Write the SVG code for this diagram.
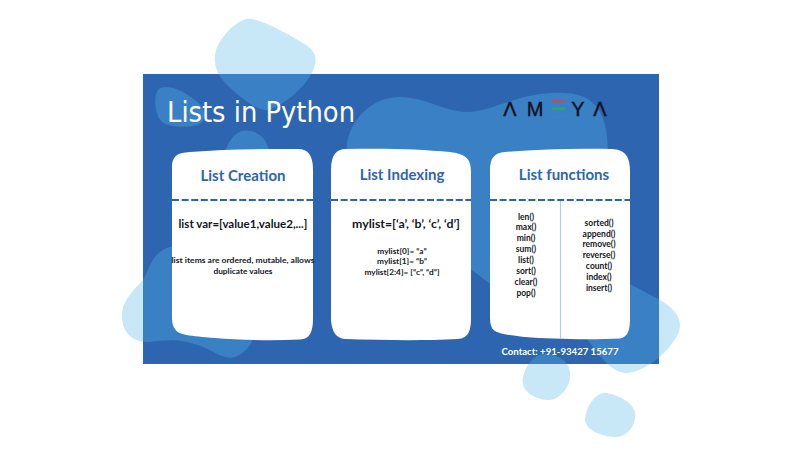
<svg xmlns="http://www.w3.org/2000/svg" xmlns:xlink="http://www.w3.org/1999/xlink" width="800" height="450" viewBox="0 0 800 450">
<style>
text{font-family:"Lato","Liberation Sans",sans-serif;text-anchor:middle;fill:#15151c;font-weight:700}
.h{font-size:15px;fill:#2f65ab}
.c{font-size:11.500px}
.s{font-size:8.300px}
.f{font-size:8.500px}
.card{fill:#fff}
.dash{fill:none;stroke:#2d65ad;stroke-width:2.2;stroke-dasharray:7 2.6}
.logo{font-family:"Liberation Sans",sans-serif;font-size:20px;font-weight:400;fill:#11121c;stroke:#11121c;stroke-width:.4}
</style>
<defs>
<g id="blobs">
<path d="M247 19C258 17 290 35 303 43C315 50 318 58 314 68C308 85 285 105 268 110C258 112 240 97 228 86C215 74 213 60 216 50C220 38 235 21 247 19Z"/>
<path d="M170 247C152 252 150 268 143 280C130 293 120 305 122 320C124 335 135 343 150 342C165 340 180 338 203 347C215 352 225 360 235 357C248 352 255 340 256 325C258 300 240 280 225 268C208 255 190 245 170 247Z"/>
<path d="M523 377C526 365 535 352 548 354C562 356 572 365 570 378C568 390 558 401 547 400C533 399 520 390 523 377Z"/>
<path d="M607 393C618 395 632 402 635 412C637 424 628 437 615 437C600 436 586 430 585 420C585 408 596 391 607 393Z"/>
</g>
<g id="inner">
<path d="M160 88C170 84 185 92 195 100C205 108 208 118 200 124C190 128 172 128 162 122C155 116 152 94 160 88Z"/>
<path d="M236 134C243 128 255 130 262 137C268 143 272 155 268 165L226 165C221 155 228 141 236 134Z"/>
<path d="M347 143C352 118 372 97 400 97C425 97 445 112 467 112C490 112 515 95 550 93C575 92 590 95 600 112C607 125 608 140 608 160L620 240L600 280L490 284L472 270C440 255 400 240 375 215C355 195 343 170 347 143Z"/>
<path d="M600 268C620 278 640 290 660 300C675 308 683 320 679 332C670 352 645 372 627 373C610 373 597 352 590 343C575 325 580 262 600 268Z"/>
</g>
<clipPath id="panelClip"><rect x="143" y="74" width="516" height="290"/></clipPath>
</defs>

<g fill="#c9e8f7">
<use xlink:href="#blobs"/>
<path d="M600 268C620 278 640 290 660 300C675 308 683 320 679 332C670 352 645 372 627 373C610 373 597 352 590 343Z"/>
</g>
<rect x="143" y="74" width="516" height="290" fill="#2d65b0"/>
<g clip-path="url(#panelClip)" fill="#3a80c4">
<use xlink:href="#blobs"/>
<use xlink:href="#inner"/>
</g>

<text x="261" y="122" style="font-family:'DejaVu Sans',sans-serif;font-size:29px;font-weight:400;fill:#fff" textLength="188" lengthAdjust="spacingAndGlyphs">Lists in Python</text>

<g id="logo">
<text class="logo" x="510" y="116">Λ</text>
<text class="logo" x="535" y="116">M</text>
<rect x="552" y="100" width="13" height="2.2" fill="#c0504d"/>
<rect x="552" y="107.500" width="13" height="2.2" fill="#2fa85a"/>
<rect x="552" y="115.500" width="13" height="2.2" fill="#3f7fd0"/>
<text class="logo" x="578" y="116">Y</text>
<text class="logo" x="600" y="116">Λ</text>
</g>

<g id="card-creation">
<path class="card" d="M172 168C172 155 178 153 190 152C225 149 265 149 298 149C308 149 313 155 313 170L313 318C313 332 310 339 300 339.500C270 341 240 340 215 338C190 336 178 335 175 329C172 325 172 320 172 315Z"/>
<path class="dash" d="M172 200H313"/>
<text class="h" x="243" y="181">List Creation</text>
<text class="c" x="243" y="228" textLength="129" lengthAdjust="spacingAndGlyphs">list var=[value1,value2,...]</text>
<text class="s" x="243" y="263" textLength="143" lengthAdjust="spacingAndGlyphs">list items are ordered, mutable, allows</text>
<text class="s" x="243" y="274">duplicate values</text>
</g>

<g id="card-indexing">
<path class="card" d="M331 170C331 155 336 149 346 149C385 148 420 149 450 152C465 154 471 158 471 172L471 318C471 332 468 338 458 339C420 341 380 340 345 339C336 338 332 332 331 320Z"/>
<path class="dash" d="M331 200H471"/>
<text class="h" x="402" y="180">List Indexing</text>
<text class="c" x="406" y="228" textLength="108" lengthAdjust="spacingAndGlyphs">mylist=[‘a’, ‘b’, ‘c’, ‘d’]</text>
<text class="s" x="402" y="253.500">mylist[0]= “a”</text>
<text class="s" x="402" y="264">mylist[1]= “b”</text>
<text class="s" x="402" y="274.500">mylist[2:4]= [“c”, “d”]</text>
</g>

<g id="card-functions">
<path class="card" d="M490 170C490 158 494 153 505 152C540 149 580 148 612 149C625 150 630 156 630 172L630 318C630 330 628 337 620 338.500C590 340 550 339 525 337C505 335 495 333 492 328C490 324 490 320 490 315Z"/>
<path d="M560.500 200V339" stroke="#b4cbe0" stroke-width="1.200" fill="none"/>
<path class="dash" d="M490 200H630"/>
<text class="h" x="564" y="180">List functions</text>
<text class="f" x="526" y="219.500">len()</text>
<text class="f" x="526" y="230.400">max()</text>
<text class="f" x="526" y="241.300">min()</text>
<text class="f" x="526" y="252.200">sum()</text>
<text class="f" x="526" y="263.100">list()</text>
<text class="f" x="526" y="274">sort()</text>
<text class="f" x="526" y="285">clear()</text>
<text class="f" x="526" y="296">pop()</text>
<text class="f" x="599" y="225.500">sorted()</text>
<text class="f" x="599" y="236.500">append()</text>
<text class="f" x="599" y="247.400">remove()</text>
<text class="f" x="599" y="258.300">reverse()</text>
<text class="f" x="599" y="269.300">count()</text>
<text class="f" x="599" y="280.200">index()</text>
<text class="f" x="599" y="291.200">insert()</text>
</g>

<text x="560" y="354.500" style="font-size:10px;fill:#fff" textLength="117" lengthAdjust="spacingAndGlyphs">Contact: +91-93427 15677</text>
</svg>
